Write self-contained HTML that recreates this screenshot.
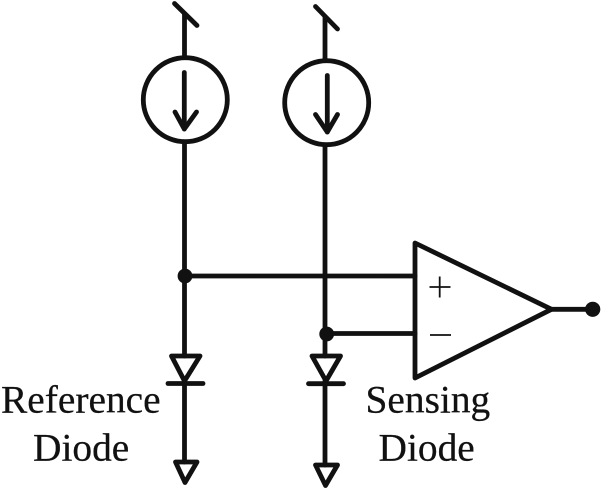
<!DOCTYPE html>
<html>
<head>
<meta charset="utf-8">
<style>
html,body{margin:0;padding:0;background:#fff;width:604px;height:488px;overflow:hidden}
svg{display:block;filter:blur(0.35px)}
text{font-family:"Liberation Serif",serif;font-size:39.4px;fill:#111;stroke:#111;stroke-width:0.25px}
</style>
</head>
<body>
<svg width="604" height="488" viewBox="0 0 604 488" xmlns="http://www.w3.org/2000/svg">
<g fill="none" stroke="#111" stroke-width="4.8" stroke-linecap="round" stroke-linejoin="round">
  <!-- Left branch -->
  <path d="M174.5 3.5L197 25.5"/>
  <path d="M184.5 14V57"/>
  <circle cx="185.3" cy="99.7" r="42"/>
  <path d="M184.3 72.5V129"/>
  <path d="M175 112L184.3 129L196.5 112"/>
  <path d="M184.5 142V356"/>
  <path d="M171.5 356H200L184.5 381Z"/>
  <path d="M168 383.5H203"/>
  <path d="M184.5 381V462"/>
  <path d="M175.5 462H197L185 482.5Z"/>
  <!-- Right branch -->
  <path d="M315.5 6.5L337.5 29"/>
  <path d="M325 17V60"/>
  <circle cx="326.7" cy="102.7" r="42"/>
  <path d="M327.3 75.5V132"/>
  <path d="M315.5 114.5L327.3 132L337.5 114.5"/>
  <path d="M325 145V356"/>
  <path d="M312 356H340.5L326 381Z"/>
  <path d="M308.5 383.7H343.5"/>
  <path d="M325 381V465"/>
  <path d="M315.5 465H337.5L325.5 485.5Z"/>
  <!-- Op amp -->
  <path d="M415 243V378L551.5 309.3Z"/>
  <path d="M185 276H415"/>
  <path d="M327 333.5H415"/>
  <path d="M551.5 309.3H592"/>
</g>
<g fill="#111">
  <circle cx="185" cy="276" r="7.4"/>
  <circle cx="326.7" cy="334" r="7.4"/>
  <circle cx="592.7" cy="309.3" r="7.6"/>
</g>
<g stroke="#111" stroke-width="1.8" fill="none">
  <path d="M429.5 287H450.5"/>
  <path d="M439.7 276.5V297.5"/>
  <path d="M430 335H451"/>
</g>
<text x="1" y="412.7">Reference</text>
<text x="33" y="460.7">Diode</text>
<text x="365.5" y="412.7">Sensing</text>
<text x="378.5" y="460.7">Diode</text>
</svg>
</body>
</html>
